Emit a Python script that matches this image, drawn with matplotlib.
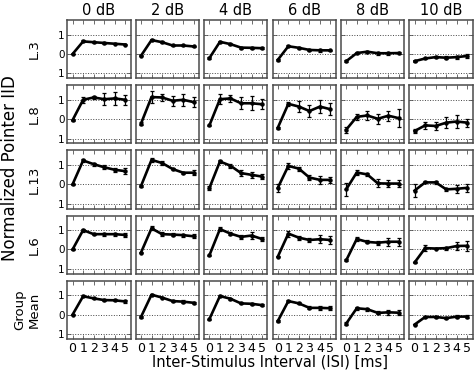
import numpy as np
from matplotlib import pyplot as plt

isi = [0, 1, 2, 3, 4, 5]
levels = ["0 dB", "2 dB", "4 dB", "6 dB", "8 dB", "10 dB"]
rows = ["L.3", "L.8", "L.13", "L.6", "Group\nMean"]

# mean normalized pointer IID, one list per level (0..10 dB)
l3 = [[0.00, 0.65, 0.61, 0.57, 0.53, 0.49],
      [-0.09, 0.72, 0.61, 0.44, 0.44, 0.39],
      [-0.21, 0.63, 0.51, 0.33, 0.32, 0.30],
      [-0.30, 0.40, 0.32, 0.21, 0.19, 0.19],
      [-0.37, 0.05, 0.12, 0.04, 0.04, 0.05],
      [-0.37, -0.23, -0.16, -0.19, -0.16, -0.10]]
l3_err = [[0.02, 0.05, 0.03, 0.03, 0.03, 0.03],
          [0.03, 0.05, 0.04, 0.04, 0.03, 0.03],
          [0.04, 0.04, 0.04, 0.05, 0.05, 0.04],
          [0.04, 0.05, 0.05, 0.06, 0.07, 0.04],
          [0.04, 0.05, 0.06, 0.07, 0.07, 0.04],
          [0.03, 0.05, 0.06, 0.07, 0.08, 0.08]]

l8 = [[-0.05, 1.00, 1.12, 1.03, 1.07, 1.00],
      [-0.23, 1.14, 1.12, 0.95, 1.00, 0.88],
      [-0.32, 1.03, 1.07, 0.82, 0.82, 0.77],
      [-0.44, 0.79, 0.65, 0.42, 0.65, 0.51],
      [-0.54, 0.12, 0.19, 0.02, 0.18, 0.05],
      [-0.61, -0.32, -0.35, -0.18, -0.12, -0.18]]
l8_err = [[0.03, 0.15, 0.10, 0.30, 0.35, 0.25],
          [0.06, 0.30, 0.20, 0.25, 0.30, 0.25],
          [0.04, 0.25, 0.20, 0.30, 0.35, 0.25],
          [0.06, 0.10, 0.30, 0.30, 0.35, 0.30],
          [0.15, 0.15, 0.25, 0.25, 0.25, 0.45],
          [0.10, 0.20, 0.20, 0.30, 0.35, 0.20]]

l13 = [[0.00, 1.23, 1.04, 0.88, 0.75, 0.68],
       [-0.09, 1.26, 1.10, 0.79, 0.60, 0.60],
       [-0.19, 1.18, 0.96, 0.58, 0.49, 0.40],
       [-0.18, 0.95, 0.81, 0.35, 0.23, 0.23],
       [-0.26, 0.61, 0.51, 0.05, 0.04, 0.04],
       [-0.32, 0.10, 0.10, -0.26, -0.23, -0.18]]
l13_err = [[0.02, 0.10, 0.08, 0.10, 0.10, 0.15],
           [0.04, 0.10, 0.10, 0.05, 0.05, 0.12],
           [0.10, 0.10, 0.10, 0.15, 0.15, 0.15],
           [0.20, 0.15, 0.10, 0.15, 0.20, 0.15],
           [0.35, 0.15, 0.10, 0.20, 0.20, 0.20],
           [0.35, 0.05, 0.08, 0.08, 0.20, 0.20]]

l6 = [[0.00, 1.00, 0.79, 0.79, 0.79, 0.75],
      [-0.16, 1.09, 0.79, 0.77, 0.74, 0.68],
      [-0.30, 1.05, 0.82, 0.65, 0.72, 0.54],
      [-0.37, 0.82, 0.61, 0.49, 0.53, 0.49],
      [-0.56, 0.54, 0.39, 0.35, 0.40, 0.40],
      [-0.67, 0.07, 0.05, 0.07, 0.18, 0.19]]
l6_err = [[0.02, 0.08, 0.06, 0.08, 0.08, 0.10],
          [0.04, 0.10, 0.10, 0.08, 0.08, 0.10],
          [0.04, 0.10, 0.08, 0.10, 0.20, 0.10],
          [0.04, 0.15, 0.10, 0.10, 0.20, 0.20],
          [0.05, 0.08, 0.08, 0.10, 0.20, 0.20],
          [0.05, 0.15, 0.05, 0.08, 0.20, 0.25]]

grp = [[0.00, 0.95, 0.84, 0.75, 0.74, 0.68],
       [-0.12, 1.03, 0.88, 0.70, 0.67, 0.61],
       [-0.23, 0.96, 0.82, 0.58, 0.56, 0.49],
       [-0.33, 0.70, 0.58, 0.35, 0.35, 0.33],
       [-0.46, 0.33, 0.28, 0.09, 0.12, 0.10],
       [-0.51, -0.12, -0.12, -0.18, -0.10, -0.10]]
grp_err = [[0.02, 0.04, 0.04, 0.06, 0.06, 0.06],
           [0.03, 0.04, 0.04, 0.05, 0.06, 0.06],
           [0.03, 0.04, 0.04, 0.05, 0.06, 0.06],
           [0.04, 0.05, 0.05, 0.08, 0.10, 0.10],
           [0.08, 0.08, 0.08, 0.08, 0.12, 0.12],
           [0.04, 0.04, 0.04, 0.05, 0.06, 0.08]]

all_means = [l3, l8, l13, l6, grp]
all_errs = [l3_err, l8_err, l13_err, l6_err, grp_err]

fig, axes = plt.subplots(5, 6, figsize=(4.74, 3.72), dpi=100,
                         sharex=True, sharey=True)
fig.subplots_adjust(left=0.142, right=0.997, top=0.946, bottom=0.089,
                    wspace=0.082, hspace=0.12)

for r in range(5):
    for c in range(6):
        ax = axes[r, c]
        ax.errorbar(isi, all_means[r][c], yerr=all_errs[r][c], color='black',
                    lw=1.9, marker='o', ms=2.2, elinewidth=0.9, capsize=1.1,
                    capthick=0.9)
        for yv in [-1, 0, 1]:
            ax.axhline(yv, color='#444444', lw=0.7, ls=':', zorder=0)
        ax.set_xlim(-0.5, 5.5)
        ax.set_ylim(-1.25, 1.75)
        ax.set_xticks(isi)
        ax.set_yticks([-1, 0, 1])
        ax.tick_params(direction='in', top=True, right=True, length=3,
                       width=0.6, color='#555555', pad=2)
        for sp in ax.spines.values():
            sp.set_color('#4a4a4a')
            sp.set_linewidth(1.1)
        if c == 0:
            ax.set_yticklabels(['1', '0', '1'], fontsize=7.5)
            ax.set_ylabel(rows[r], fontsize=9.5, labelpad=12)
        if r == 4:
            ax.set_xticklabels([str(v) for v in isi], fontsize=9)
        if r == 0:
            ax.set_title(levels[c], fontsize=10.5, pad=4)

fig.text(0.022, 1 - 168 / 372, "Normalized Pointer IID", rotation=90,
         ha='center', va='center', fontsize=12)
fig.text(0.57, 0.028, "Inter-Stimulus Interval (ISI) [ms]", ha='center',
         va='center', fontsize=10.5)

fig.savefig("out.png", dpi=100)
